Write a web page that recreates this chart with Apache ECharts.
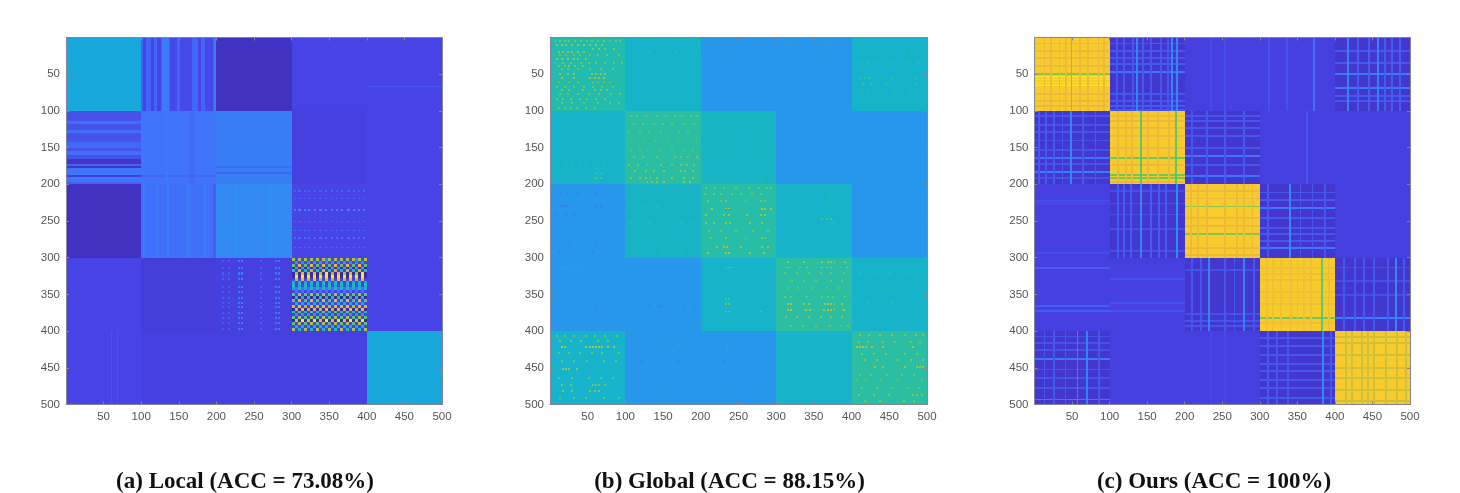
<!DOCTYPE html>
<html><head><meta charset="utf-8">
<script src="https://cdn.jsdelivr.net/npm/echarts@6/dist/echarts.min.js"></script>
<style>html,body{margin:0;background:#fff}#c{width:1460px;height:493px;filter:blur(.45px)}</style>
</head><body><div id="c"></div>
<script>
const tickLabels=[50,100,150,200,250,300,350,400,450,500];
const captions=['(a) Local (ACC = 73.08%)','(b) Global (ACC = 88.15%)','(c) Ours (ACC = 100%)'];
const parula=['#3e26a8','#4743e6','#3f74fb','#2797eb','#12afd6','#22bcae','#5cc867','#aac639','#ecba38','#fbd327','#f9fb15'];

const localBlocks=[[.37,.17,.04,.10,.10],[.13,.20,.23,.09,.10],[.04,.19,.26,.10,.10],[.10,.08,.09,.30,.10],[.10,.09,.09,.09,.37]];
const localRects=[
[103,107,0,100,.1],[113,117,0,100,.1],[121,126,0,100,.1],[127,137,0,100,.22],[138,148,0,100,.11],[152,168,0,100,.11],[175,179,0,100,.1],[185,196,0,100,.11],[197,200,0,100,.23],
[0,100,114,118,.19],[0,100,126,130,.19],[0,100,142,150,.18],[0,100,155,160,.19],[0,100,165,172,.05],[0,100,172,175,.17],[0,100,175,178,.05],[0,100,178,187,.2],[0,100,187,190,.08],[0,100,190,197,.21],[0,100,197,200,.16],
[100,200,187,190,.17],[132,136,100,200,.22],[165,170,100,200,.18],
[200,300,175,178,.18],[200,300,183,186,.17],[200,300,120,122,.21],[200,300,140,142,.21],[200,300,160,162,.21],
[103,106,200,300,.21],[118,124,200,300,.21],[134,137,200,300,.23],[160,166,200,300,.21],[182,186,200,300,.22],[196,200,200,300,.16],
[400,500,66,68,.14],[60,61,400,500,.13],[68,69,400,500,.13],[225,228,200,300,.28],[270,274,200,300,.28],[200,300,262,264,.28],
];
const localDotRows=[[208,.17],[218,.17],[234,.26],[250,.17],[262,.19],[272,.19],[285,.17]];
const localDotXs=[303,309,316,322,330,337,344,352,359,366,374,381,388,395];
const localDotCols=[[208,.15],[216,.15],[229,.22],[233,.24],[258,.16],[278,.2],[282,.2]];
const localDotYs=[303,312,320,327,338,345,353,360,366,374,381,388,396];
const localChecker=[
"7171717171727171717172717","1313131313131313131313131","6181618161816181618161816","0505050505050505050505050","5171517151715171517151715",
"0708070807090708070807090","0909090909190909090919090","1718171817181718171817181","4151415141514151415141514","5141514151415141514151415",
"4252425242524252425242524","1212121212121212121212121","6171617161716171617161716","0505050505050505050505050","6181618161816181618161816",
"1414141414141414141414141","7181718171817181718171817","0708070807080708070807080","5161516151615161516151615","1313131313131313131313131",
"6171617161716171617161716","0809080908090809080908090","6171617161716171617161716","1414141414141414141414141","7151715171517151715171517"];

const globalBlocks=[[.50,.43,.30,.30,.43],[.43,.515,.44,.30,.30],[.30,.44,.51,.43,.30],[.30,.30,.43,.515,.43],[.43,.30,.30,.43,.515]];
const globalSpecks=[
[4,.63,6,12,18,24,32,40,48,54,62,70,78,86,92],[9,.67,8,14,20,28,36,44,52,60,68],[4,.5,126,136,142,166,176,186,196],
[18,.67,10,16,22,28,36,44],[14,.65,56,64,72,84],[22,.62,12,20,30,38,52,62,74,90],[28,.67,8,14,22,30,36,46],[18,.51,130,142,166,178,192],
[33,.62,6,16,26,40,50,60,72,84,94],[38,.65,10,18,24,32,42],[42,.63,14,22,36,52,66,82],[49,.67,12,22,30,54,60,66,72],[26,.5,124,136,150,168,180],
[54,.69,14,30,52,58,64,70],[60,.67,10,24,36,56,62,70,78],[66,.63,8,18,30,44,56,68,82],[70,.65,14,24,42,58,66,74],[76,.62,12,22,36,50,64,80,92],
[82,.63,8,16,26,38,48,60,72],[88,.61,14,28,44,62,78,90],[95,.63,10,18,26,34,46,58],
[8,.34,210,218,234,262,278,312,320,362,372],[14,.38,234,372],[18,.5,414,424,440,468,478,490],[34,.51,412,420,430,450,476,488],[54,.53,410,416,422,436,452,484],[62,.53,414,424,444,468,484],[72,.51,408,420,436,456,478],[88,.5,414,430,462,482],
[106,.6,106,114,126,140,152,164,174,186,194],[116,.6,110,122,136,148,160,176,190],[128,.59,104,118,130,146,170,182],[140,.58,108,122,138,156,168,192],[152,.59,106,118,128,144,160,176,188],[162,.62,110,122,140,164,172,182,194],[172,.64,104,116,128,146,160,172,180,190],[180,.66,112,126,136,150,172,178,188],[190,.66,106,118,126,132,140,160,176,188],[196,.66,128,134,140,150,176,184],
[168,.51,20,28,38,46,62,72],[184,.57,60,62,66],[190,.57,58,60,66],[150,.48,12,22,34],[176,.51,10,18,30,48,60,72,84],
[110,.5,206,222,242,262,282],[134,.49,212,234,258,276],[162,.49,208,230,250,270,290],[184,.51,232,278],[194,.51,218,232,278],
[204,.62,206,218,230,246,262,276,286,292],[212,.62,204,216,226,240,252,266,278],[222,.64,208,226,232,258,278,284],[232,.7,214,232,236,280,284,292],[240,.68,206,230,236,260,278,284],[252,.66,206,216,232,238,264,280],[262,.62,210,226,246,268,288],[272,.64,212,232,258,280,284],[284,.68,220,230,234,252,280,288],[292,.7,208,232,236,264,282],
[210,.24,12,22,34,60],[228,.2,14,18,22,60,66],[240,.22,8,20,30],[282,.24,20,24,60],[292,.22,10,22,56],[230,.51,108,122,140,160,182],[252,.51,106,130,150,172,190,374],[268,.5,110,134,158,184],[290,.51,112,128,148,172],
[246,.57,360,366,372],[212,.51,330,372],[225,.5,312,340,372],
[305,.66,314,336,360,368,372,376,390],[312,.72,312,316,330,340,360,366,372,376,384,392],[320,.62,310,326,342,358,372,388],[330,.62,320,336,352,372,386],[340,.6,314,328,346,366,382],[352,.62,310,318,340,360,368,374,390],[362,.7,314,318,336,342,364,368,372,376,386],[370,.7,314,318,338,344,362,368,372,376,388],[380,.66,312,326,342,358,372,386],[392,.62,318,334,352,370,384,394],
[312,.48,12,20,28,36],[234,.4,232,236],[312,.62,232,236,240],[335,.49,232,236,372],[355,.56,232,236],[362,.62,232,236],[372,.58,232,236,278],[384,.49,232,236],
[365,.23,112,130,142,146,176,190],[372,.23,120,144],[360,.51,404,420,436,452,468],[320,.51,410,430,448,472,490],[340,.5,404,428,452,478],[370,.24,20,44,60,72,80],
[405,.62,8,18,30,46,58,72,88],[412,.65,12,26,40,62,76],[420,.7,14,18,46,52,56,60,64,68,76,84],[428,.62,10,24,38,54,68,90],[440,.6,14,30,48,70,86],[450,.66,16,20,24,34],[462,.6,10,28,50,66,82],[472,.62,14,26,56,60,64,72],[480,.65,16,28,52,58,64],[490,.6,12,30,46,70,90],
[418,.4,150,170,234],[424,.4,234],[440,.24,120,170,230],[476,.34,150,240,280],
[404,.64,410,422,436,452,470,484,494],[414,.64,408,420,440,456,478,490],[420,.7,406,410,414,418,426,440,480],[430,.64,412,428,444,470,486],[438,.66,416,432,460,478,494],[448,.68,430,440,470,486,490,494],[458,.62,410,424,446,466,482],[466,.64,406,418,438,460,492],[476,.62,412,432,452,474,488],[486,.66,408,428,448,480,486,492],[494,.64,416,436,468,482]
];
const oursBase=[[.87,.06,.09,.09,.06],[.06,.87,.06,.09,.09],[.09,.06,.87,.06,.09],[.09,.09,.06,.87,.06],[.06,.09,.09,.06,.87]];
const oursHorizontal=[
[100,.14,7,17,27,35,76,85,92,97],[100,.2,46],[400,.14,17,33,78,85],[400,.22,49,67],
[0,.13,106,118,128,139,152,171,190],[0,.19,163],[0,.23,182],[200,.14,106,113,122,133,149,172],[200,.2,160,187],
[100,.12,208,225,240,260,290],[300,.14,210,220,245,258,267,276],[300,.21,231,285],[0,.12,222,225,292],
[0,.15,313,365,371],[100,.13,328,361,371],[200,.13,315,376,385,392],[400,.23,381],[400,.12,312,330,350],
[0,.13,406,415,424,451,463,476],[0,.21,437,492],[300,.14,408,419,431,444,453,465,476,490],
[0,.8,7,17,27,38,76,85,92],[0,.65,49],[0,.93,52,56,60,64],
[100,.8,106,113,122,133,149,172,196],[100,.62,163,186,190],
[200,.8,208,245,285,295,218,255],[200,.65,229,267],
[300,.82,313,329,345,362,388,321,353],[300,.62,381],
[400,.76,415,431,449,463,479,494,407]
];
const oursVertical=[
[0,.14,109,118,130,143,154,167,176],[0,.25,135,182,189],[0,.12,234,252],[0,.13,311,335],[0,.19,371],[0,.15,429,444,466,475,486],[0,.24,416,456],
[100,.14,5,14,25,36,63,80],[100,.25,47],[100,.14,209,229,252,278],[100,.14,362],
[200,.15,110,118,127,154,165,174],[200,.24,141],[200,.27,189],[200,.14,310,353,369,385],[200,.25,339],
[300,.14,209,220,252,265,291],[300,.24,231,278],[300,.14,411,425,438,451,469,491],[300,.25,480],
[400,.14,12,25,40,85],[400,.24,56,69],[400,.14,310,322,336,394],[400,.26,383],[400,.11,234,252],
[0,.8,12,21,32,41,59,70,84,91],[0,.66,48],
[100,.8,110,121,150,163,128,178],[100,.6,141,187],
[200,.8,229,252,278,289,207,216,268],
[300,.82,316,327,340,349,367,391,308,358],[300,.6,382],
[400,.76,413,435,451,467,482,493,421,443]
];

function blockRects(b){const out=[];b.forEach((r,i)=>r.forEach((v,j)=>out.push([j*100,j*100+100,i*100,i*100+100,v])));return out}
function localData(){
  const out=blockRects(localBlocks).concat(localRects);
  localDotRows.forEach(([y,v])=>localDotXs.forEach(x=>out.push([x,x+3,y,y+2,v])));
  localDotCols.forEach(([x,v])=>localDotYs.forEach(y=>out.push([x,x+2,y,y+3,v])));
  localChecker.forEach((row,i)=>[...row].forEach((d,j)=>{out.push([300+j*4,304+j*4,300+i*4,304+i*4,d==='9'?.96:+d/10])}));
  return out;
}
function globalData(){
  const out=blockRects(globalBlocks);
  globalSpecks.forEach(([y,v,...xs])=>xs.forEach(x=>out.push([x,x+2.6,y,y+2.6,v])));
  return out;
}
function oursData(){
  const out=blockRects(oursBase);
  oursHorizontal.forEach(([x,v,...ys])=>ys.forEach(y=>out.push([x,x+100,y,y+2.5,v])));
  oursVertical.forEach(([y,v,...xs])=>xs.forEach(x=>out.push([x,x+2.5,y,y+100,v])));
  return out;
}
const grids=[{left:66,top:37.5,width:376,height:367},{left:550,top:37.5,width:377,height:367},{left:1034.5,top:37.5,width:375.5,height:367}];
const centers=[240,724.5,1209];
const lineStyle={color:'#85859a',width:1};
const renderRect=(p,api)=>{
  const a=api.coord([api.value(0),api.value(2)]),b=api.coord([api.value(1),api.value(3)]);
  const x0=Math.round(a[0]),y0=Math.round(a[1]),x1=Math.max(Math.round(b[0]),x0+1),y1=Math.max(Math.round(b[1]),y0+1);
  return {type:'rect',shape:{x:x0,y:y0,width:x1-x0,height:y1-y0},style:{fill:api.visual('color')}};
};
const xAxis=[],yAxis=[];
const fmt=v=>tickLabels.includes(v)?String(v):'';
const labelStyle={fontSize:11.5,color:'#555',fontFamily:'Liberation Sans',formatter:fmt,hideOverlap:false,showMinLabel:false};
grids.forEach((g,i)=>{
  xAxis.push({gridIndex:i,type:'value',min:0,max:500,interval:50,position:'bottom',z:5,splitLine:{show:false},axisLine:{onZero:false,lineStyle},
    axisTick:{inside:true,length:3,lineStyle},axisLabel:{margin:6,...labelStyle}});
  xAxis.push({gridIndex:i,type:'value',min:0,max:500,interval:50,position:'top',z:5,splitLine:{show:false},axisLine:{onZero:false,lineStyle},
    axisTick:{inside:true,length:3,lineStyle},axisLabel:{show:false}});
  yAxis.push({gridIndex:i,type:'value',min:0,max:500,interval:50,inverse:true,position:'left',z:5,splitLine:{show:false},axisLine:{onZero:false,lineStyle},
    axisTick:{inside:true,length:3,lineStyle},axisLabel:{margin:6,...labelStyle}});
  yAxis.push({gridIndex:i,type:'value',min:0,max:500,interval:50,inverse:true,position:'right',z:5,splitLine:{show:false},axisLine:{onZero:false,lineStyle},
    axisTick:{inside:true,length:3,lineStyle},axisLabel:{show:false}});
});
const datas=[localData(),globalData(),oursData()];
const chart=echarts.init(document.getElementById('c'),null,{renderer:'canvas'});
chart.setOption({
  animation:false,backgroundColor:'#fff',
  grid:grids,xAxis,yAxis,
  title:captions.map((t,i)=>({text:t,left:centers[i],top:466,textAlign:'center',textStyle:{fontFamily:'Liberation Serif',fontWeight:'bold',fontSize:23,color:'#111'}})),
  visualMap:{show:false,type:'continuous',min:0,max:1,dimension:4,seriesIndex:[0,1,2],inRange:{color:parula}},
  series:datas.map((d,i)=>({type:'custom',xAxisIndex:i*2,yAxisIndex:i*2,coordinateSystem:'cartesian2d',renderItem:renderRect,data:d,encode:{x:[0,1],y:[2,3]},clip:true,progressive:0,silent:true}))
});
</script></body></html>
